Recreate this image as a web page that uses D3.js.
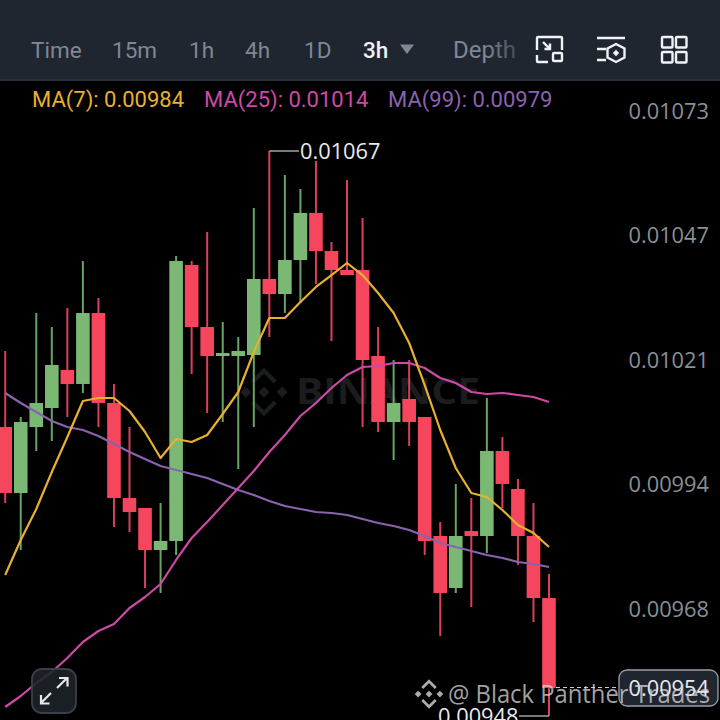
<!DOCTYPE html>
<html><head><meta charset="utf-8">
<style>html,body{margin:0;padding:0;background:#000;overflow:hidden}svg{display:block}</style>
<script src="https://cdn.jsdelivr.net/npm/d3@7/dist/d3.min.js"></script>
</head><body><div id="c"></div>
<script>
const opens=[0.0100887,0.0099497,0.0100887,0.0101287,0.0102087,0.0101793,0.0103288,0.0101392,0.0099391,0.0099181,0.0098296,0.0098486,0.0104299,0.0102993,0.0102382,0.0102382,0.0102403,0.0104004,0.0103688,0.0104404,0.0105394,0.0104594,0.0104194,0.0104194,0.0102382,0.0100992,0.0101477,0.0101098,0.0098591,0.0097496,0.0098696,0.0098591,0.0100381,0.0099581,0.0098591,0.0097285];
const highs=[0.0102488,0.0101098,0.0103288,0.0102993,0.0103393,0.0104383,0.0103604,0.0101793,0.0100887,0.0099181,0.0099286,0.0104488,0.0104383,0.0104994,0.0103098,0.0102782,0.01055,0.01067,0.0106195,0.01059,0.0106489,0.0104783,0.0106089,0.0105289,0.0102993,0.0102298,0.0102298,0.0101098,0.0098886,0.0099686,0.0099392,0.0101498,0.0100676,0.0099792,0.0099286,0.0097791];
const lows=[0.0099286,0.0098296,0.0100381,0.0100592,0.0101098,0.0101603,0.0100887,0.0098781,0.0098675,0.0097496,0.0097391,0.0098191,0.0102003,0.0101182,0.0100992,0.0100002,0.0100887,0.0102782,0.0103288,0.0103499,0.0103899,0.0102698,0.0104088,0.0100887,0.0100782,0.0100192,0.0100487,0.0098191,0.0096485,0.0097391,0.0097096,0.0098233,0.0099181,0.009798,0.009678,0.00948];
const closes=[0.0099497,0.0100992,0.0101392,0.0102193,0.0101793,0.0103288,0.0101392,0.0099391,0.0099097,0.0098296,0.0098486,0.0104383,0.0102993,0.0102382,0.0102445,0.0102488,0.0104004,0.0103688,0.0104404,0.0105394,0.0104594,0.0104194,0.0104088,0.0102298,0.0100992,0.0101392,0.0100992,0.0098486,0.0097391,0.0098591,0.0098591,0.0100381,0.0099686,0.0098591,0.0097285,0.009539];
const ma7=[0.009777,0.0098507,0.009916,0.0099939,0.0100676,0.0101434,0.0101498,0.0101498,0.0101224,0.0100782,0.0100234,0.0100634,0.0100571,0.0100718,0.0101161,0.0101624,0.0102467,0.0103183,0.0103183,0.010352,0.0103836,0.0104088,0.0104341,0.0104088,0.0103709,0.0103288,0.0102656,0.0101771,0.0100824,0.0100023,0.0099497,0.0099413,0.0099139,0.0098823,0.0098654,0.0098359];
const ma25=[0.009499,0.0095221,0.0095495,0.0095727,0.0096022,0.0096359,0.009659,0.0096738,0.0097075,0.0097306,0.009758,0.0098086,0.0098549,0.0098886,0.0099244,0.0099602,0.009996,0.010036,0.0100718,0.0101119,0.0101392,0.0101708,0.0101982,0.0102151,0.0102172,0.0102235,0.0102235,0.010213,0.0101919,0.0101814,0.0101624,0.0101582,0.0101603,0.0101561,0.0101519,0.0101413];
const ma99=[0.0101603,0.0101392,0.0101203,0.0101013,0.0100887,0.0100824,0.0100697,0.0100529,0.010036,0.0100213,0.0100065,0.0099981,0.0099897,0.0099813,0.0099686,0.009956,0.0099455,0.0099328,0.0099223,0.009916,0.0099097,0.0099076,0.0099033,0.0098949,0.0098865,0.0098802,0.0098718,0.0098591,0.0098444,0.0098359,0.0098275,0.0098191,0.0098128,0.0098044,0.0098001,0.0097938];
const tickLabels=["0.01073","0.01047","0.01021","0.00994","0.00968"];
const periods=["Time","15m","1h","4h","1D","3h","Depth"];
const legend=[["MA(7): 0.00984","#e8b030"],["MA(25): 0.01014","#cc4aa5"],["MA(99): 0.00979","#8a62b0"]];
const highVal=0.01067,lowVal=0.00948,lastVal=0.00954;

const W=720,H=720,RED="#f6465d",GREEN="#7ab874",F="'Open Sans',sans-serif",R="Roboto,sans-serif";
const svg=d3.select("#c").append("svg").attr("width",W).attr("height",H).attr("viewBox",`0 0 ${W} ${H}`);
const defs=svg.append("defs");
const grad=defs.append("linearGradient").attr("id","fade").attr("gradientUnits","userSpaceOnUse").attr("x1",485).attr("x2",518).attr("y1",0).attr("y2",0);
grad.append("stop").attr("offset",0).attr("stop-color","#7f8894");
grad.append("stop").attr("offset",1).attr("stop-color","#7f8894").attr("stop-opacity",.35);
svg.append("rect").attr("width",W).attr("height",H).attr("fill","#000");
const idx=d3.range(opens.length);
const x=d3.scaleLinear().domain([0,35]).range([5.2,549]);
const y=d3.scaleLinear().domain([lowVal,highVal]).range([716,151]);

// watermark
const wm=svg.append("g");
wm.append("text").attr("x",296).attr("y",404).attr("font-family",F).attr("font-weight",700).attr("font-size",35)
 .attr("fill","#1b1c1e").attr("textLength",184).attr("lengthAdjust","spacingAndGlyphs").text("BINANCE");
const diamond=(g,cx,cy,s,fill)=>g.append("path").attr("d",`M${cx} ${cy-s}L${cx+s} ${cy}L${cx} ${cy+s}L${cx-s} ${cy}Z`).attr("fill",fill);
const logo=(g,cx,cy,k,fill)=>{
  diamond(g,cx,cy,4.5*k,fill);diamond(g,cx-14.5*k,cy,4.5*k,fill);diamond(g,cx+14.5*k,cy,4.5*k,fill);
  g.append("path").attr("fill","none").attr("stroke",fill).attr("stroke-width",3.6*k)
   .attr("d",`M${cx-9*k} ${cy-8*k}L${cx} ${cy-17*k}L${cx+9*k} ${cy-8*k}M${cx-9*k} ${cy+8*k}L${cx} ${cy+17*k}L${cx+9*k} ${cy+8*k}`);
};
logo(wm,264,392,1.25,"#1b1c1e");

// candles
const c=svg.append("g");
c.selectAll("line").data(idx).join("line")
 .attr("x1",i=>x(i)).attr("x2",i=>x(i)).attr("y1",i=>y(highs[i])).attr("y2",i=>y(lows[i]))
 .attr("stroke",i=>closes[i]<opens[i]?"#d9405a":"#6aa465").attr("stroke-width",2);
c.selectAll("rect").data(idx).join("rect")
 .attr("x",i=>x(i)-6.8).attr("width",13.6)
 .attr("y",i=>y(Math.max(opens[i],closes[i]))).attr("height",i=>Math.abs(y(opens[i])-y(closes[i])))
 .attr("fill",i=>closes[i]<opens[i]?RED:GREEN);

// MA lines
const line=d3.line().x((d,i)=>x(i)).y(d=>y(d));
[[ma99,"#8a62b0"],[ma25,"#cc4aa5"],[ma7,"#e8b030"]].forEach(([s,col])=>
 svg.append("path").attr("d",line(s)).attr("fill","none").attr("stroke",col).attr("stroke-width",2.2).attr("stroke-linejoin","round"));

// high / low annotations
const fmt=d3.format(".5f");
svg.append("line").attr("x1",x(17)).attr("x2",299).attr("y1",y(highVal)).attr("y2",y(highVal)).attr("stroke","#c8ccd2").attr("stroke-width",1.2);
svg.append("text").attr("x",300).attr("y",y(highVal)+7.5).attr("font-family",F).attr("font-size",21.8).attr("fill","#e8eaee").text(fmt(highVal));
svg.append("line").attr("x1",519).attr("x2",x(35)).attr("y1",y(lowVal)).attr("y2",y(lowVal)).attr("stroke","#c8ccd2").attr("stroke-width",1.2);
svg.append("text").attr("x",438).attr("y",y(lowVal)+7.5).attr("font-family",F).attr("font-size",21.8).attr("fill","#e8eaee").text(fmt(lowVal));

// price axis
const axisY=d3.scalePoint().domain(tickLabels).range([111,609]);
svg.append("g").selectAll("text").data(tickLabels).join("text")
 .attr("x",709).attr("y",d=>axisY(d)+7.5).attr("text-anchor","end").attr("font-family",F).attr("font-size",21.8)
 .attr("fill","#898f97").text(d=>d);

// last price
svg.append("line").attr("x1",x(35)+7).attr("x2",619).attr("y1",y(lastVal)).attr("y2",y(lastVal)).attr("stroke","#c8ccd2").attr("stroke-dasharray","4 3").attr("stroke-width",1);
svg.append("rect").attr("x",619).attr("y",670).attr("width",99).attr("height",36).attr("rx",8).attr("fill","#20262f").attr("stroke","#9aa0a8").attr("stroke-width",1.3);
svg.append("text").attr("x",709).attr("y",696).attr("text-anchor","end").attr("font-family",F).attr("font-size",21.8).attr("fill","#e8eaee").text(fmt(lastVal));

// header
svg.append("rect").attr("width",W).attr("height",80).attr("fill","#1f2630");
svg.append("rect").attr("y",79).attr("width",W).attr("height",2).attr("fill","#2a3038");
const px=[31,112,189,245,304,363,453];
svg.append("g").selectAll("text").data(periods).join("text")
 .attr("x",(d,i)=>px[i]).attr("y",58).attr("font-family",R).attr("font-size",d=>d==="Depth"?24:22.5)
 .attr("font-weight",d=>d==="3h"?500:400)
 .attr("fill",d=>d==="3h"?"#f0f2f5":d==="Depth"?"url(#fade)":"#7f8894").text(d=>d);
svg.append("path").attr("d","M400 44.5L414 44.5L407 54Z").attr("fill","#7f8894");
const ic=svg.append("g").attr("fill","none").attr("stroke","#f0f2f5").attr("stroke-width",2.4);
ic.append("path").attr("d","M537 50V38Q537 37 538 37H561Q562 37 562 38V50M537 55V61Q537 62 538 62H548");
ic.append("rect").attr("x",553).attr("y",53).attr("width",9).attr("height",8).attr("rx",1);
ic.append("path").attr("d","M543 42L550 49M550 43.5V49H544.5");
ic.append("path").attr("d","M597 38H625M597 49H606M597 60H606");
ic.append("path").attr("d","M616 44L624.5 48.5V57.5L616 62L607.5 57.5V48.5Z");
diamond(ic,616,53,3.2,"#f0f2f5").attr("stroke","none");
[[662,37],[676,37],[662,52],[676,52]].forEach(([a,b])=>ic.append("rect").attr("x",a).attr("y",b).attr("width",10.5).attr("height",10.5).attr("rx",1));

// legend
const lx=[32,204,388];
svg.append("g").selectAll("text").data(legend).join("text")
 .attr("x",(d,i)=>lx[i]).attr("y",107).attr("font-family",R).attr("font-size",22)
 .attr("fill",d=>d[1]).text(d=>d[0]);

// expand button
svg.append("rect").attr("x",32).attr("y",669).attr("width",44).attr("height",44).attr("rx",10)
 .attr("fill","#1e2329").attr("fill-opacity",.88).attr("stroke","#3a4048").attr("stroke-width",1.8);
svg.append("path").attr("fill","none").attr("stroke","#e6e8eb").attr("stroke-width",2.2)
 .attr("d","M57 688L67 678M59 678H67.5V686.5M51 693L41 703M41 695V703.5H49.5");

// credit watermark
const cr=svg.append("g").attr("fill-opacity",.75);
cr.append("text").attr("x",448).attr("y",703).attr("font-family",F).attr("font-size",25).attr("fill","#d8d8d8")
 .attr("textLength",262).attr("lengthAdjust","spacingAndGlyphs").text("@ Black Panther Trades");
const cl=svg.append("g").attr("opacity",.8);
logo(cl,429,694,.75,"#d8d8d8");
</script></body></html>
